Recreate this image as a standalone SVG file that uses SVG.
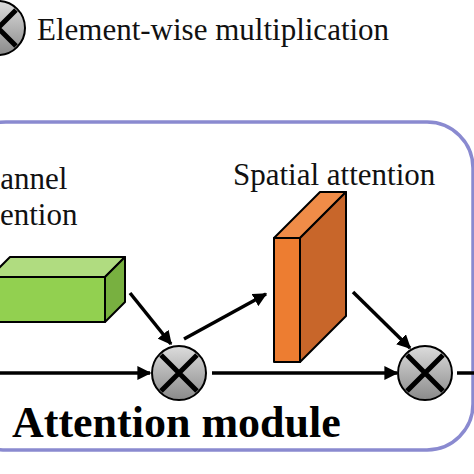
<svg xmlns="http://www.w3.org/2000/svg" width="474" height="474" viewBox="0 0 474 474">
<defs>
<linearGradient id="g" x1="0" y1="0" x2="0" y2="1">
<stop offset="0" stop-color="#dcdcdc"/>
<stop offset="1" stop-color="#8a8a8a"/>
</linearGradient>
<marker id="ah" markerWidth="4" markerHeight="4" refX="3.6" refY="2" orient="auto" markerUnits="strokeWidth">
<path d="M0,0 L4,2 L0,4 Z" fill="#000"/>
</marker>
<g id="mul">
<circle r="27" fill="url(#g)" stroke="#000" stroke-width="2"/>
<path d="M-18,-18 L18,18 M18,-18 L-18,18" stroke="#000" stroke-width="5"/>
</g>
</defs>
<style>
.t{font-family:"Liberation Serif","Times New Roman",serif;font-size:31px;fill:#111}
.b{font-family:"Liberation Serif","Times New Roman",serif;font-size:44px;font-weight:bold;fill:#000}
.c{stroke:#000;stroke-width:3.5;fill:none}
.e{stroke:#000;stroke-width:2;stroke-linejoin:round}
</style>
<rect x="0" y="0" width="474" height="474" fill="#fff"/>
<g id="legend">
<use href="#mul" x="-2" y="28"/>
<text class="t" x="37" y="40">Element-wise multiplication</text>
</g>
<g id="module">
<rect x="-40" y="122" width="513" height="328" rx="46" fill="none" stroke="#8a8ad0" stroke-width="3.5"/>
<text class="b" x="12" y="437">Attention module</text>
</g>
<g id="channel">
<text class="t" x="-36" y="189">Channel</text>
<text class="t" x="-31" y="225">attention</text>
<polygon class="e" points="-10,277 105,277 125,257 10,257" fill="#b0dc80"/>
<polygon class="e" points="105,277 125,257 125,302 105,322" fill="#78b040"/>
<rect class="e" x="-10" y="277" width="115" height="45" fill="#92d050"/>
</g>
<g id="spatial">
<text class="t" x="233" y="185">Spatial attention</text>
<polygon class="e" points="274,238 300,238 346,192 320,192" fill="#f08c48"/>
<polygon class="e" points="300,238 346,192 346,316 300,362" fill="#c8662a"/>
<rect class="e" x="274" y="238" width="26" height="124" fill="#ed7d31"/>
</g>
<g id="mul1"><use href="#mul" x="179" y="373"/></g>
<g id="mul2"><use href="#mul" x="425" y="373"/></g>
<g id="connectors">
<line class="c" x1="130" y1="293" x2="171" y2="344" marker-end="url(#ah)"/>
<line class="c" x1="184" y1="339" x2="266" y2="294" marker-end="url(#ah)"/>
<line class="c" x1="353" y1="292" x2="410" y2="348" marker-end="url(#ah)"/>
<line class="c" x1="-5" y1="373" x2="150" y2="373" marker-end="url(#ah)"/>
<line class="c" x1="212" y1="373" x2="397" y2="373" marker-end="url(#ah)"/>
<line class="c" x1="457" y1="373" x2="480" y2="373"/>
</g>
</svg>
